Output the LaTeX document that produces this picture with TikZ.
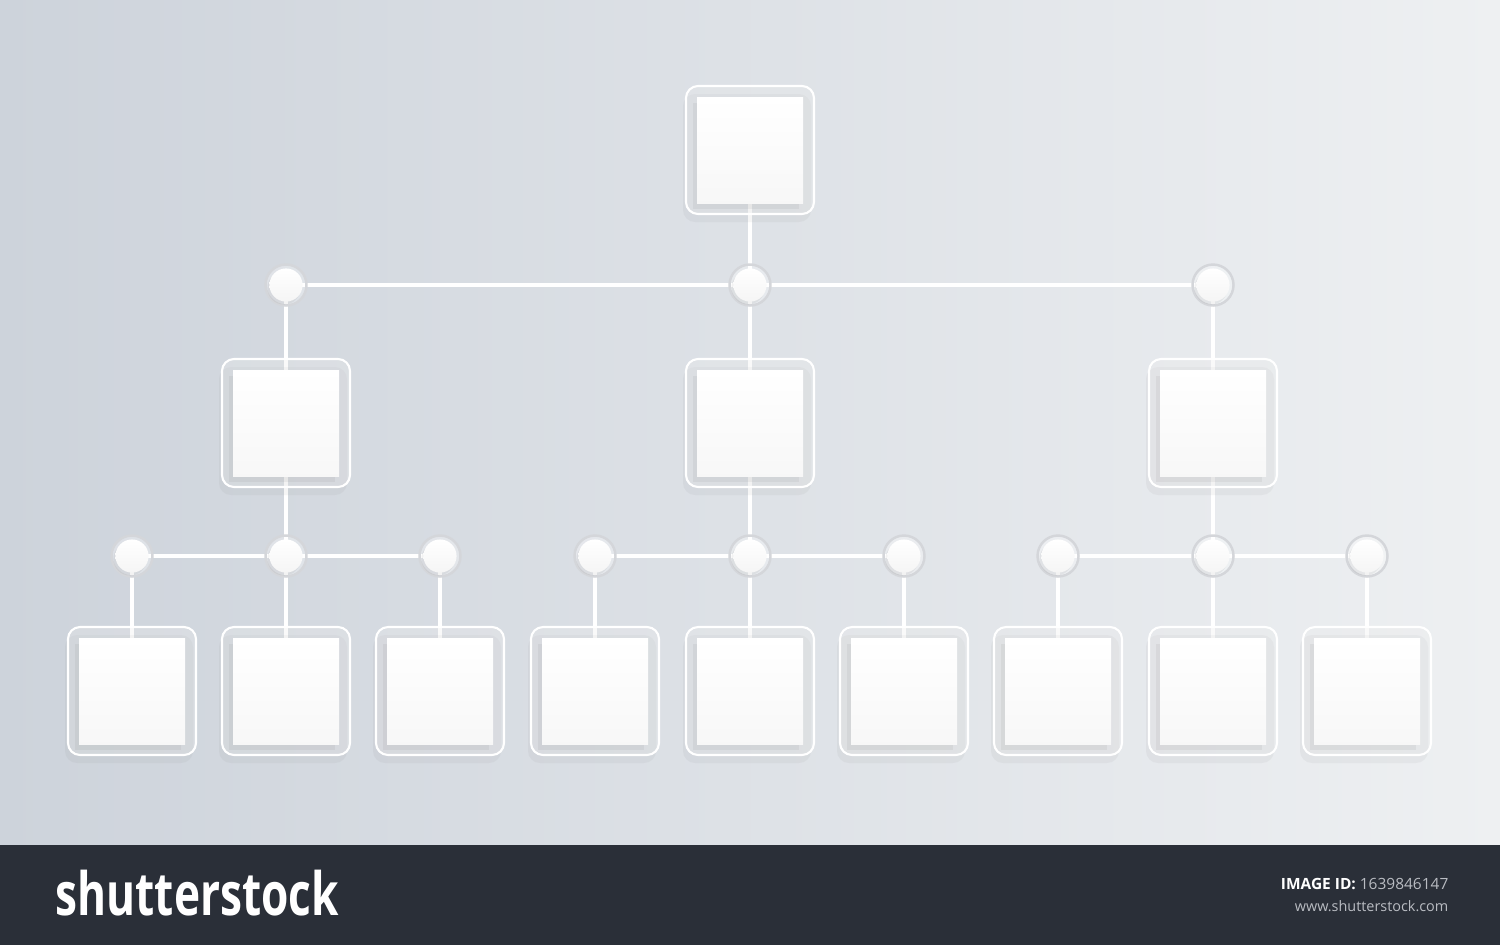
\documentclass[tikz,border=0pt]{standalone}
\usepackage{fontspec}
\setmainfont{Open Sans}
\usetikzlibrary{shadows,backgrounds}
\definecolor{bgleft}{HTML}{CDD3DB}
\definecolor{bgright}{HTML}{EEF0F2}
\definecolor{barcol}{HTML}{2A2F38}
\definecolor{ringcol}{HTML}{D4D6DA}
\definecolor{idgray}{HTML}{B9BCC2}
\pgfdeclarelayer{wires}
\pgfsetlayers{background,wires,main}

\begin{document}
\begin{tikzpicture}[x=0.1mm, y=-0.1mm]
			\tikzstyle{frame}=[rectangle,rounded corners=1.2mm,minimum size=12.8mm,draw=white,line width=0.6pt,fill=white!85!gray,fill opacity=0.3,drop shadow={opacity=0.08,shadow xshift=-0.3mm,shadow yshift=-0.8mm}]
			\tikzstyle{card}=[rectangle,minimum size=10.6mm,top color=white,bottom color=white!94!gray,drop shadow={opacity=0.1,shadow xshift=-0.4mm,shadow yshift=-0.6mm}]
			\tikzstyle{ring}=[circle,minimum size=4.1mm,draw=ringcol,line width=0.7pt,fill=white,fill opacity=0.3]
			\tikzstyle{disc}=[circle,minimum size=3mm,top color=white,bottom color=white!92!gray,drop shadow={opacity=0.1,shadow xshift=-0.2mm,shadow yshift=-0.3mm}]
			\tikzstyle{wire}=[white,line width=0.9pt]
			\useasboundingbox (0,0) rectangle (1500,945);
			\begin{pgfonlayer}{background}
			\shade[left color=bgleft,right color=bgright] (0,0) rectangle (1500,845);
			\fill[barcol] (0,845) rectangle (1500,945);
			\end{pgfonlayer}
			
			% top
			\node[frame](t) at (750,150){};
			\node[card](t-in) at (750,150){};
			
			% first row
			\foreach \i/\x in {1/286,2/750,3/1213}
			{
			\node[ring](c-\i) at (\x,285){};
			\node[disc] at (\x,285){};
			\node[frame](m-\i) at (\x,423){};
			\node[card] at (\x,423){};
			}
			
			% second row
			\foreach \j/\x in {1/132,2/286,3/440,4/595,5/750,6/904,7/1058,8/1213,9/1367}
			{
			\node[ring](d-\j) at (\x,556){};
			\node[disc] at (\x,556){};
			\node[frame](b-\j) at (\x,691){};
			\node[card] at (\x,691){};
			}
			
			\begin{pgfonlayer}{wires}
			\draw[wire] (t.center) -- (c-2.center)
			(c-1.center) -- (c-3.center);
			\foreach \i/\k in {1/2,2/5,3/8}
			\draw[wire] (c-\i.center) -- (m-\i.center)
			(m-\i.center) -- (d-\k.center);
			\foreach \a/\b in {1/3,4/6,7/9}
			\draw[wire] (d-\a.center) -- (d-\b.center);
			\foreach \j in {1,...,9}
			\draw[wire] (d-\j.center) -- (b-\j.center);
			\end{pgfonlayer}
			
			% bar texts
			\node[anchor=base west,inner sep=0pt,text=white,font=\fontsize{17}{20}\selectfont\bfseries](logo) at (55,915){\scalebox{0.74}[1]{shutterstock}};
			\node[anchor=base east,inner sep=0pt,font=\fontsize{4.4}{6}\selectfont](id) at (1449,889){\textcolor{white}{\textbf{IMAGE ID:}} \textcolor{idgray}{1639846147}};
			\node[anchor=base east,inner sep=0pt,text=idgray,font=\fontsize{4.1}{6}\selectfont](www) at (1449,911){www.shutterstock.com};
			\end{tikzpicture}
\end{document}
